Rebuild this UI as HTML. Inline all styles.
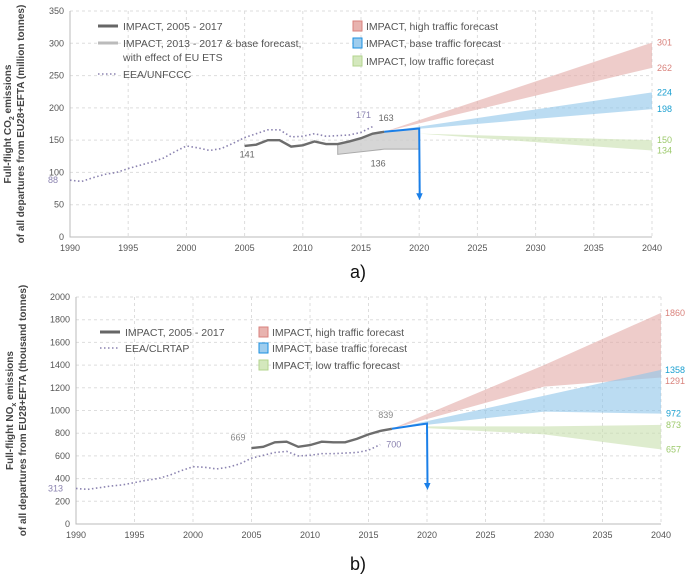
<!DOCTYPE html>
<html><head><meta charset="utf-8"><style>
body{margin:0;background:#fff;width:685px;height:576px;overflow:hidden}
svg{display:block}
text{font-family:"Liberation Sans",sans-serif}
</style></head><body>
<svg id="s" width="685" height="576"></svg>
<script>
// ---- Chart a data (CO2, million tonnes)
const years = [1990,1995,2000,2005,2010,2015,2020,2025,2030,2035,2040];
const aTicks = [0,50,100,150,200,250,300,350];
const aEeaYears = [1990,1991,1992,1993,1994,1995,1996,1997,1998,1999,2000,2001,2002,2003,2004,2005,2006,2007,2008,2009,2010,2011,2012,2013,2014,2015,2016];
const aEea = [88,86,92,97,100,106,111,116,122,132,141,138,134,137,145,154,160,166,166,155,156,160,156,157,158,162,171];
const aImpYears = [2005,2006,2007,2008,2009,2010,2011,2012,2013,2014,2015,2016,2017];
const aImp = [141,143,150,150,140,142,148,144,144,148,153,160,163];
const aGreyYears = [2013,2016,2017,2020];
const aGreyLow = [128,134,136,136];
const aBaseLine = [[2017,163],[2020,168]];
const aArrowTo = 57;
const aBandYears = [2017,2040];
const aHighLo = [163,262], aHighHi = [163,301];
const aMidLo = [163,198], aMidHi = [163,224];
const aLowYears = [2020,2040];
const aLowLo = [160,134], aLowHi = [160,150];
// ---- Chart b data (NOx, thousand tonnes)
const bTicks = [0,200,400,600,800,1000,1200,1400,1600,1800,2000];
const bEea = [313,305,320,335,345,365,385,400,430,470,505,500,485,500,530,580,605,630,640,600,605,620,620,625,630,650,700];
const bImp = [669,680,720,725,680,695,725,720,720,750,790,820,839];
const bBandYears = [2017,2030,2040];
const bHighLo = [839,1210,1291], bHighHi = [839,1400,1860];
const bMidLo = [839,990,972], bMidHi = [839,1130,1358];
const bLowYears = [2020,2030,2040];
const bLowLo = [845,790,657], bLowHi = [860,860,873];
const bBaseLine = [[2017,839],[2020,885]];
const bArrowTo = 300;

const NS="http://www.w3.org/2000/svg", svg=document.getElementById('s');
function el(t,a,p){const e=document.createElementNS(NS,t);for(const k in a)e.setAttribute(k,a[k]);(p||svg).appendChild(e);return e;}
function txt(x,y,s,a,p){const e=el('text',Object.assign({x:x,y:y},a),p);e.textContent=s;return e;}

function chart(c){
  const g=el('g',{});
  
  
  const X=v=>c.x0+(v-1990)/50*(c.x1-c.x0);
  const Y=v=>c.y0-(v/c.max)*(c.y0-c.y1);
  c.ticks.forEach(t=>{
    if(t>0){const l=el('line',{x1:c.x0,x2:c.x1,y1:Y(t),y2:Y(t),stroke:'#ddd','stroke-dasharray':'3,3'},g);
    }
    const tl=txt(c.x0-6,Y(t)+3,String(t),{'font-size':9,fill:'#555','text-anchor':'end'},g);
    
  });
  years.forEach(yr=>{
    if(yr>1990){const l=el('line',{x1:X(yr),x2:X(yr),y1:c.y1,y2:c.y0,stroke:'#ddd','stroke-dasharray':'3,3'},g);
    }
    const tl=txt(X(yr),c.y0+c.xl,String(yr),{'font-size':9,fill:'#555','text-anchor':'middle'},g);
    
  });
  const ax=el('path',{d:`M${c.x0},${c.y1}V${c.y0}H${c.x1}`,stroke:'#bbb',fill:'none'},g);
  
  function band(ys,lo,hi,col,name){
    let d='M'+ys.map((y,i)=>X(y)+','+Y(hi[i])).join('L')+'L'+ys.map((y,i)=>X(y)+','+Y(lo[i])).reverse().join('L')+'Z';
    const p=el('path',{d:d,fill:col,'fill-opacity':0.6},g);
    
  }
  band(c.bandYears,c.highLo,c.highHi,'#e3aaa6','high-forecast-band');
  band(c.bandYears,c.midLo,c.midHi,'#8ec4ea','base-forecast-band');
  band(c.lowYears,c.lowLo,c.lowHi,'#c8e0ad','low-forecast-band');
  if(c.greyLow){
    const top=aImpYears.map((y,i)=>[y,aImp[i]]).filter(p=>p[0]>=2013).concat([[2020,168]]);
    let d='M'+top.map(p=>X(p[0])+','+Y(p[1])).join('L')+'L'+c.greyYears.map((y,i)=>X(y)+','+Y(c.greyLow[i])).reverse().join('L')+'Z';
    const p=el('path',{d:d,fill:'#ccc','fill-opacity':0.8,stroke:'#aaa'},g);
    
  }
  const eea=el('polyline',{points:aEeaYears.map((y,i)=>X(y)+','+Y(c.eea[i])).join(' '),fill:'none',stroke:'#8b83b0','stroke-width':1.6,'stroke-dasharray':'1.5,2.5'},g);
  
  const imp=el('polyline',{points:aImpYears.map((y,i)=>X(y)+','+Y(c.imp[i])).join(' '),fill:'none',stroke:'#6d6d6d','stroke-width':2.4},g);
  
  const bl=c.baseLine;
  const arr=el('path',{d:`M${X(bl[0][0])},${Y(bl[0][1])}L${X(bl[1][0])},${Y(bl[1][1])}L${X(2020)+0.5},${Y(c.arrowTo)-6}`,fill:'none',stroke:'#1a7fe8','stroke-width':2},g);
  
  const ah=el('path',{d:`M${X(2020)-3},${Y(c.arrowTo)-7}L${X(2020)+3.5},${Y(c.arrowTo)-7}L${X(2020)+0.5},${Y(c.arrowTo)}Z`,fill:'#1a7fe8'},g);
  
  c.labels.forEach(l=>{const t=txt(X(l[0])+(l[4]||0),Y(l[1])+3,l[2],{'font-size':9,fill:l[3],'text-anchor':l[5]||'start'},g);
    });
  const yt=el('text',{transform:`translate(${c.yx},${(c.y0+c.y1)/2}) rotate(-90)`,'font-size':10,'font-weight':'bold',fill:'#444','text-anchor':'middle'},g);
  
  const t1=el('tspan',{x:0,dy:0},yt);t1.innerHTML=c.title1;
  const t2=el('tspan',{x:0,dy:13},yt);t2.textContent='of all departures from EU28+EFTA '+c.unit;
  c.legend.forEach((L,i)=>{
    const lg=el('g',{},g);
    if(L.t==='line')el('line',{x1:L.x,x2:L.x+20,y1:L.y,y2:L.y,stroke:L.c,'stroke-width':L.w||3},lg);
    else if(L.t==='dot')el('line',{x1:L.x,x2:L.x+20,y1:L.y,y2:L.y,stroke:L.c,'stroke-width':1.6,'stroke-dasharray':'1.5,2.5'},lg);
    else el('rect',{x:L.x+4,y:L.y-5,width:9,height:10,fill:L.c,stroke:L.s},lg);
    L.s2.forEach((s,j)=>txt(L.x+(L.t==='box'?17:25),L.y+4+j*14,s,{'font-size':10.5,fill:'#555'},lg));
  });
  return g;
}
chart({name:'co2-chart',x0:70,x1:652,y0:237,y1:11,max:350,xl:14,ticks:aTicks,eea:aEea,imp:aImp,
  bandYears:aBandYears,highLo:aHighLo,highHi:aHighHi,midLo:aMidLo,midHi:aMidHi,lowYears:aLowYears,lowLo:aLowLo,lowHi:aLowHi,
  greyYears:aGreyYears,greyLow:aGreyLow,baseLine:aBaseLine,arrowTo:aArrowTo,yx:11,
  title1:'Full-flight CO<tspan font-size="7" dy="3">2</tspan><tspan dy="-3"> emissions</tspan>',unit:'(million tonnes)',
  labels:[[1990,88,'88','#8b83b0',-22],[2005,128,'141','#666',-5],[2015,189,'171','#8b83b0',-5],[2016,184,'163','#666',6],[2016,114,'136','#666',-2],
   [2040,301,'301','#d9827c',5],[2040,262,'262','#d9827c',5],[2040,224,'224','#1a9fd0',5],[2040,198,'198','#1a9fd0',5],[2040,150,'150','#9cc96b',5],[2040,134,'134','#9cc96b',5]],
  legend:[{t:'line',x:98,y:26,c:'#666',s2:['IMPACT, 2005 - 2017']},{t:'line',x:98,y:43,c:'#bbb',s2:['IMPACT, 2013 - 2017 & base forecast,','with effect of EU ETS']},
   {t:'dot',x:98,y:74,c:'#8b83b0',s2:['EEA/UNFCCC']},{t:'box',x:349,y:26,c:'#e8b3af',s:'#d9827c',s2:['IMPACT, high traffic forecast']},
   {t:'box',x:349,y:43,c:'#9ecdee',s:'#1a8fe0',s2:['IMPACT, base traffic forecast']},{t:'box',x:349,y:61,c:'#d4e8bd',s:'#b3d48e',s2:['IMPACT, low traffic forecast']}]});
chart({name:'nox-chart',x0:76,x1:661,y0:524,y1:297,max:2000,xl:14,ticks:bTicks,eea:bEea,imp:bImp,
  bandYears:bBandYears,highLo:bHighLo,highHi:bHighHi,midLo:bMidLo,midHi:bMidHi,lowYears:bLowYears,lowLo:bLowLo,lowHi:bLowHi,
  baseLine:bBaseLine,arrowTo:bArrowTo,yx:13,
  title1:'Full-flight NO<tspan font-size="7" dy="3">x</tspan><tspan dy="-3"> emissions</tspan>',unit:'(thousand tonnes)',
  labels:[[1990,313,'313','#8b83b0',-28],[2005,760,'669','#888',-6,'end'],[2016,700,'700','#8b83b0',6],[2016,960,'839','#888',-2],
   [2040,1860,'1860','#d9827c',4],[2040,1358,'1358','#1a9fd0',4],[2040,1260,'1291','#d9827c',4],[2040,972,'972','#1a9fd0',5],[2040,873,'873','#9cc96b',5],[2040,657,'657','#9cc96b',5]],
  legend:[{t:'line',x:100,y:332,c:'#666',s2:['IMPACT, 2005 - 2017']},{t:'dot',x:100,y:348,c:'#8b83b0',s2:['EEA/CLRTAP']},
   {t:'box',x:255,y:332,c:'#e8b3af',s:'#d9827c',s2:['IMPACT, high traffic forecast']},{t:'box',x:255,y:348,c:'#9ecdee',s:'#1a8fe0',s2:['IMPACT, base traffic forecast']},
   {t:'box',x:255,y:365,c:'#d4e8bd',s:'#b3d48e',s2:['IMPACT, low traffic forecast']}]});
const la=txt(358,278,'a)',{'font-size':18,'font-family':'Liberation Serif',fill:'#111','text-anchor':'middle'});

const lb=txt(358,570,'b)',{'font-size':18,'font-family':'Liberation Serif',fill:'#111','text-anchor':'middle'});

</script>
</body></html>
